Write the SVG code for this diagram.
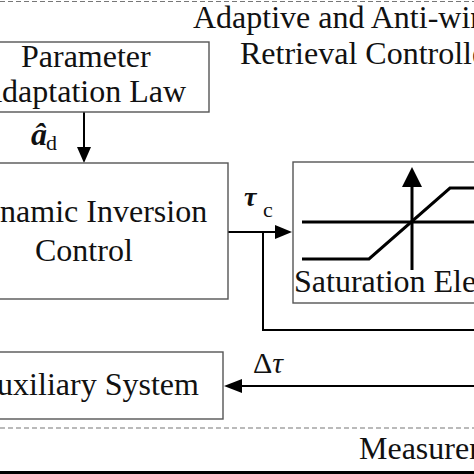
<svg xmlns="http://www.w3.org/2000/svg" width="474" height="474" viewBox="0 0 474 474">
<style>
.box{fill:#fff;stroke:#555;stroke-width:1.4}
.t{font-family:"Liberation Serif","Times New Roman",serif;font-size:32px;fill:#111}
.ln{stroke:#000;stroke-width:2;fill:none}
.dash{stroke:#777;stroke-width:1.2;stroke-dasharray:5 3;fill:none}
.sat{stroke:#000;stroke-width:3;fill:none}
</style>
<defs>
<marker id="ah" viewBox="0 0 10 10" refX="10" refY="5" markerWidth="9" markerHeight="8" markerUnits="userSpaceOnUse" orient="auto">
<path d="M0,0 L10,5 L0,10 Z" fill="#000"/>
</marker>
</defs>
<rect width="474" height="474" fill="#fff"/>
<line class="dash" x1="0" y1="1.5" x2="474" y2="1.5"/>
<line class="dash" x1="0" y1="428" x2="474" y2="428"/>
<line x1="0" y1="472.5" x2="474" y2="472.5" stroke="#000" stroke-width="3"/>
<g id="title">
<text class="t" x="193" y="28">Adaptive and Anti-windup</text>
<text class="t" x="240" y="64">Retrieval Controller</text>
</g>
<g id="connectors">
<line class="ln" x1="84" y1="112" x2="84" y2="147"/>
<path d="M77,147 L91,147 L84,163 Z" fill="#000"/>
<line class="ln" x1="228" y1="232" x2="276" y2="232"/>
<path d="M275,225 L292,232 L275,239 Z" fill="#000"/>
<polyline class="ln" points="263,232 263,330 476,330"/>
<line class="ln" x1="476" y1="386" x2="241" y2="386"/>
<path d="M242,379 L224,386 L242,393 Z" fill="#000"/>
</g>
<g id="param">
<rect class="box" x="-5" y="42" width="214" height="70"/>
<text class="t" x="21" y="67">Parameter</text>
<text class="t" x="-21" y="102">Adaptation Law</text>
</g>
<g id="dyn">
<rect class="box" x="-5" y="163" width="233" height="136"/>
<text class="t" x="-39" y="222">Dynamic Inversion</text>
<text class="t" x="35" y="261">Control</text>
</g>
<g id="satbox">
<rect class="box" x="293" y="162" width="190" height="141"/>
<line class="sat" x1="302" y1="222" x2="474" y2="222"/>
<line class="sat" x1="412" y1="270" x2="412" y2="184"/>
<path d="M402,187 L422,187 L412,167 Z" fill="#000"/>
<polyline class="sat" points="302,259 369,259 450,188 474,188"/>
<text class="t" x="294" y="292">Saturation Element</text>
</g>
<g id="aux">
<rect class="box" x="-5" y="352" width="228" height="67"/>
<text class="t" x="-26" y="395">Auxiliary System</text>
</g>
<g id="labels">
<text x="31" y="145" font-family="Liberation Serif,serif" font-size="32" font-weight="bold" font-style="italic" fill="#111">â</text>
<text x="46" y="150" font-family="Liberation Serif,serif" font-size="22" fill="#111">d</text>
<text x="244" y="206" font-family="Liberation Serif,serif" font-size="28" font-weight="bold" font-style="italic" fill="#111">τ</text>
<text x="263" y="217" font-family="Liberation Serif,serif" font-size="22" fill="#111">c</text>
<text x="253" y="373" font-family="Liberation Serif,serif" font-size="30" fill="#111">Δ<tspan font-style="italic">τ</tspan></text>
<text class="t" x="359" y="459">Measurement</text>
</g>
</svg>
